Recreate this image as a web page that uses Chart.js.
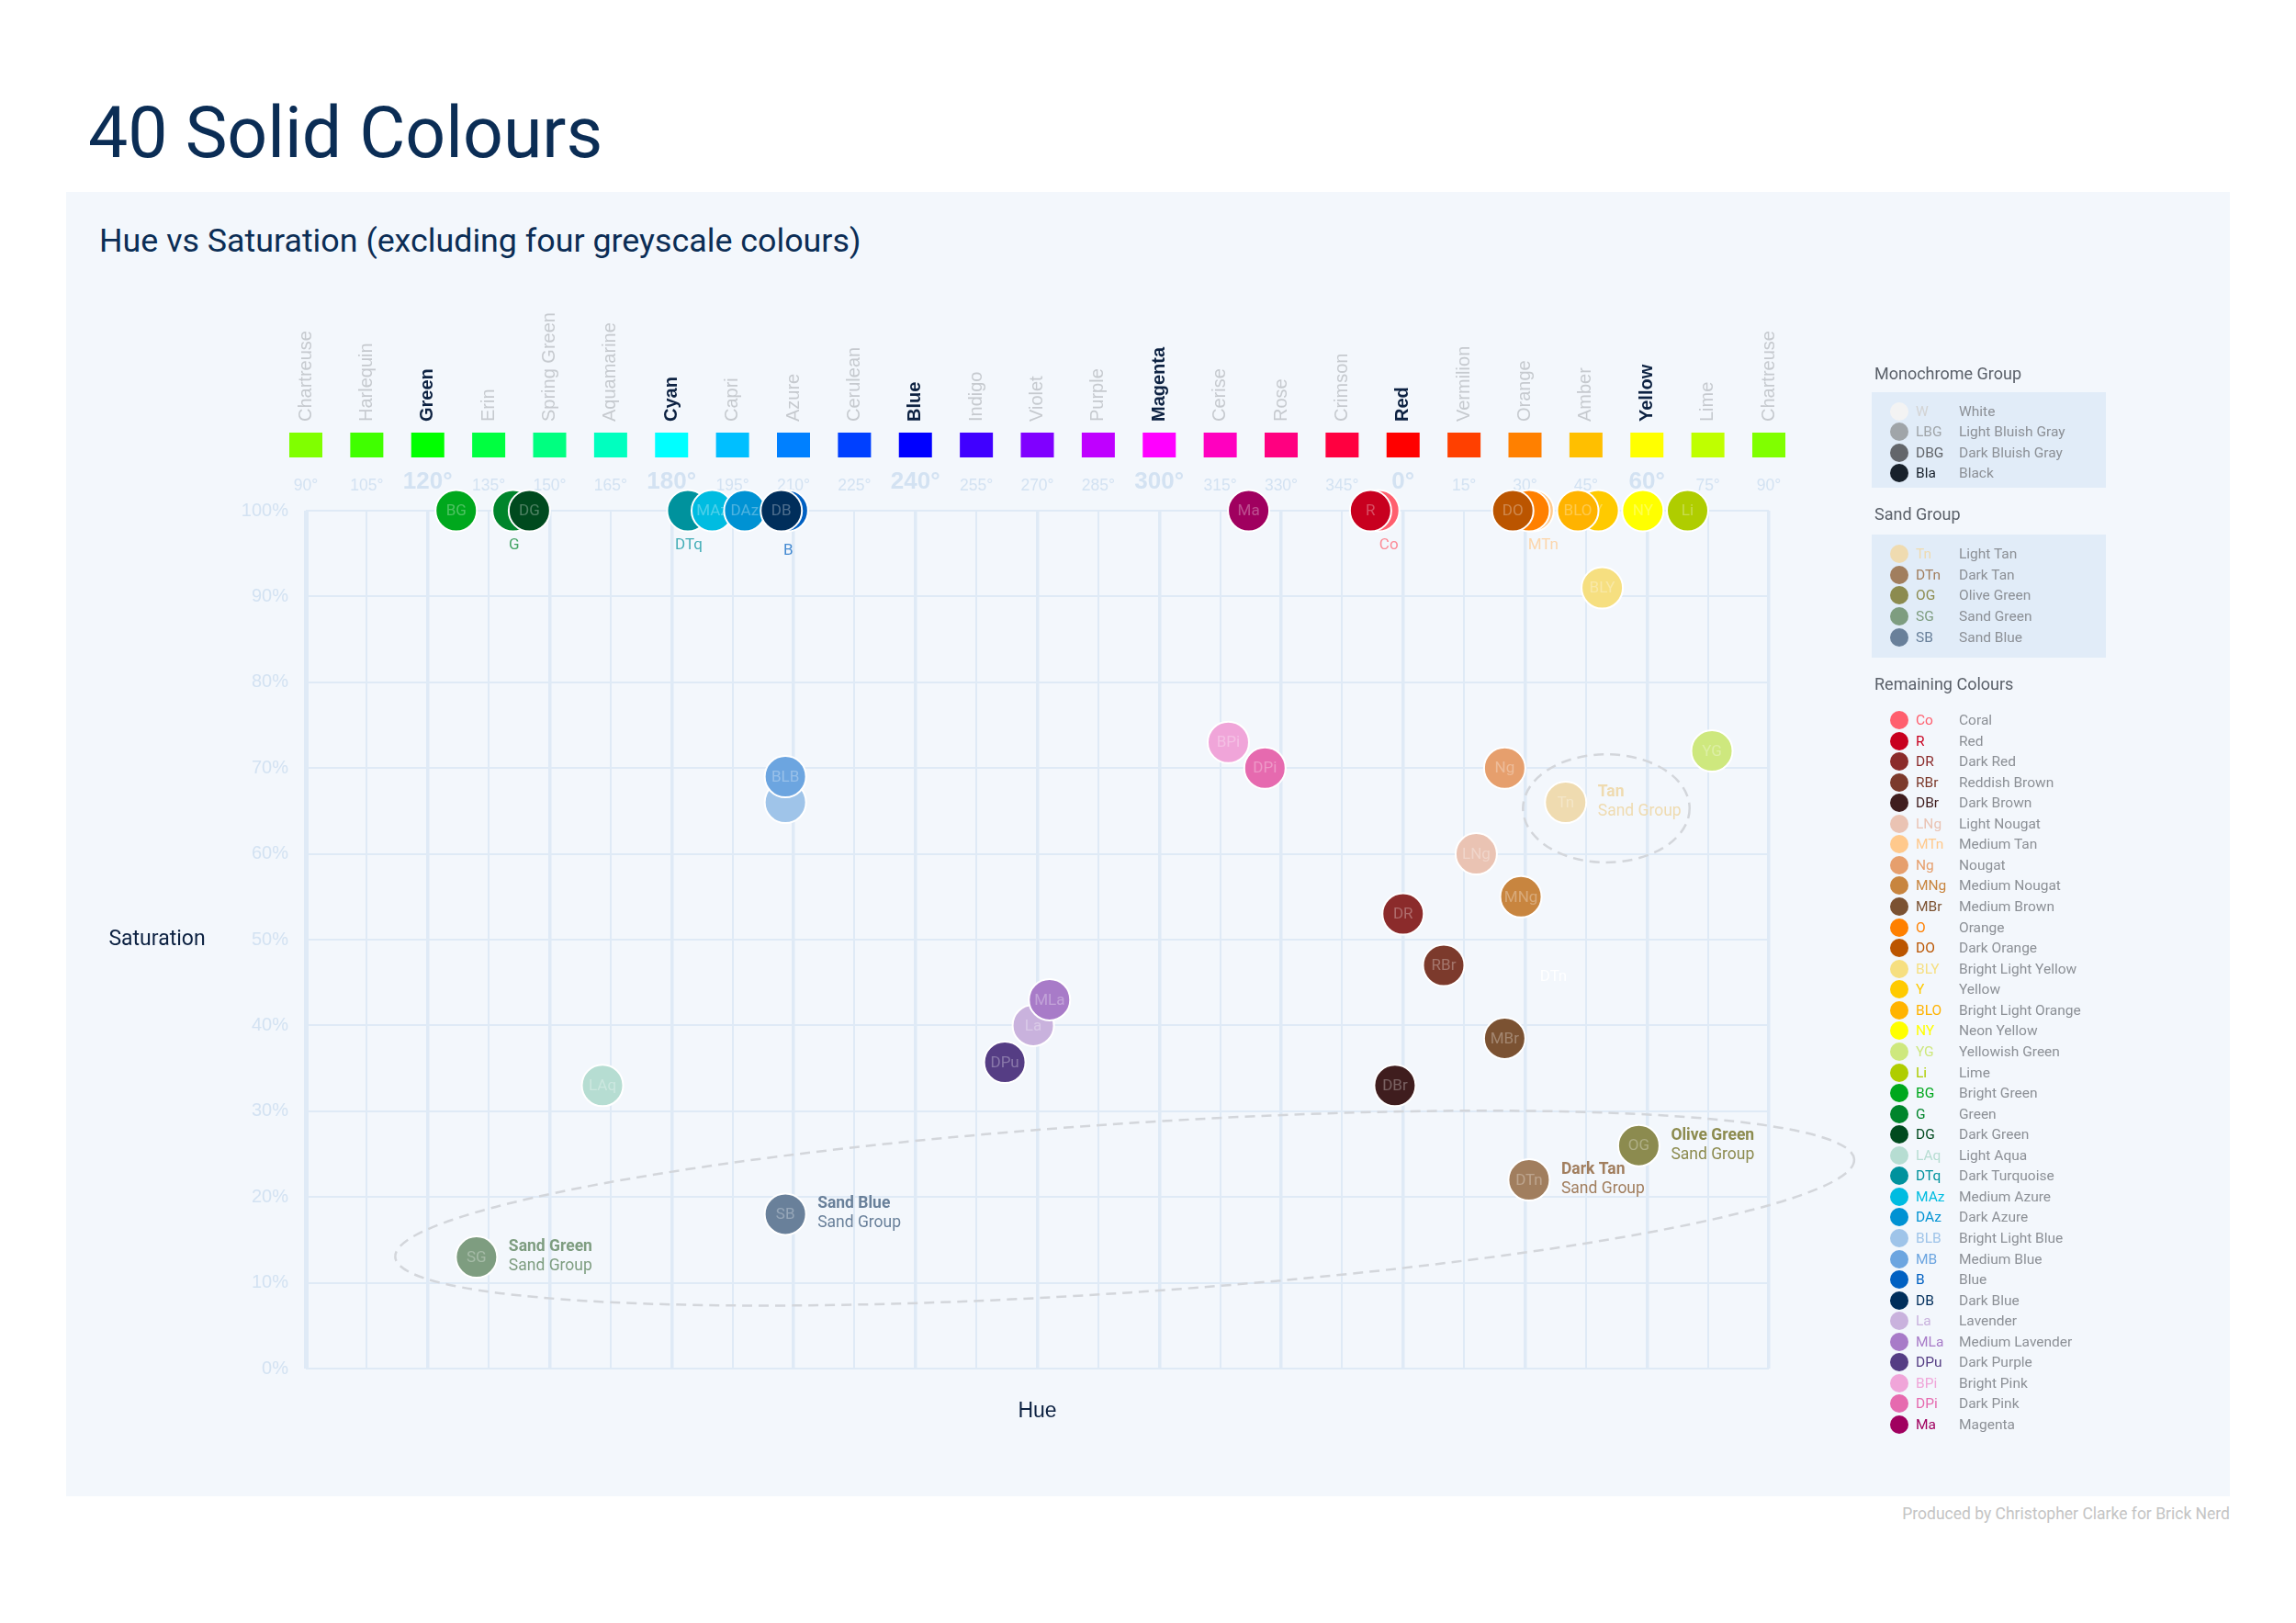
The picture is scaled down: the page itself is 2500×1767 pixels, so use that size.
<!DOCTYPE html>
<html>
<head>
<meta charset="utf-8">
<title>40 Solid Colours</title>
<script src="https://cdn.jsdelivr.net/npm/chart.js@4.4.1/dist/chart.umd.min.js"></script>
<style>
  body { margin: 0; width: 2500px; height: 1767px; position: relative; overflow: hidden; background: #fff; font-family: Roboto, sans-serif; }
  #panel { position: absolute; left: 72px; top: 209px; width: 2356px; height: 1420px; background: #F3F7FC; }
  #title { position: absolute; left: 96px; top: 107px; font-size: 77px; line-height: 1; color: #0B2D55; white-space: nowrap; }
  #subtitle { position: absolute; left: 108px; top: 245px; font-size: 35.8px; line-height: 1; color: #0B2D55; white-space: nowrap; }
  #footer { position: absolute; right: 72px; top: 1640px; font-size: 17.5px; line-height: 1; color: #C4C4C4; white-space: nowrap; }
  #chart { position: absolute; left: 0; top: 0; }
  #legend { position: absolute; left: 0; top: 0; }
  .lg-head { position: absolute; left: 2041px; font-size: 18px; line-height: 22px; color: #5A6069; white-space: nowrap; }
  .lg-box { position: absolute; left: 2038px; width: 255px; background: #E1ECF8; }
  .lg-row { position: absolute; left: 2058px; height: 22px; line-height: 22px; font-size: 15.5px; white-space: nowrap; }
  .lg-dot { position: absolute; left: 0; top: 1px; width: 20px; height: 20px; border-radius: 50%; }
  .lg-code { position: absolute; left: 28px; }
  .lg-name { position: absolute; left: 75px; color: #8C9096; }
</style>
</head>
<body>
<div id="panel"></div>
<div id="title">40 Solid Colours</div>
<div id="subtitle">Hue vs Saturation (excluding four greyscale colours)</div>
<div id="footer">Produced by Christopher Clarke for Brick Nerd</div>
<canvas id="chart" width="2500" height="1767"></canvas>
<div id="legend"></div>
<script>
// hue axis runs from 90 round to 450 (= 90 again)
const hueTicks = [90, 105, 120, 135, 150, 165, 180, 195, 210, 225, 240, 255, 270, 285, 300, 315, 330, 345, 360, 375, 390, 405, 420, 435, 450];
const hueNames = ['Chartreuse', 'Harlequin', 'Green', 'Erin', 'Spring Green', 'Aquamarine', 'Cyan', 'Capri', 'Azure', 'Cerulean', 'Blue', 'Indigo', 'Violet', 'Purple', 'Magenta', 'Cerise', 'Rose', 'Crimson', 'Red', 'Vermilion', 'Orange', 'Amber', 'Yellow', 'Lime', 'Chartreuse'];
const primaryHues = [120, 180, 240, 300, 360, 420];

// legend only
const monoCodes = ['W', 'LBG', 'DBG', 'Bla'];
const monoNames = ['White', 'Light Bluish Gray', 'Dark Bluish Gray', 'Black'];
const monoColours = ['#F3F3F3', '#A0A5A9', '#63666B', '#18212B'];

// plotted colours (remaining colours, then sand group)
const codes = ['Co', 'R', 'DR', 'RBr', 'DBr', 'LNg', 'MTn', 'Ng', 'MNg', 'MBr', 'O', 'DO', 'BLY', 'Y', 'BLO', 'NY', 'YG', 'Li', 'BG', 'G', 'DG', 'LAq', 'DTq', 'MAz', 'DAz', 'BLB', 'MB', 'B', 'DB', 'La', 'MLa', 'DPu', 'BPi', 'DPi', 'Ma',
               'Tn', 'DTn', 'OG', 'SG', 'SB'];
const names = ['Coral', 'Red', 'Dark Red', 'Reddish Brown', 'Dark Brown', 'Light Nougat', 'Medium Tan', 'Nougat', 'Medium Nougat', 'Medium Brown', 'Orange', 'Dark Orange', 'Bright Light Yellow', 'Yellow', 'Bright Light Orange', 'Neon Yellow', 'Yellowish Green', 'Lime', 'Bright Green', 'Green', 'Dark Green', 'Light Aqua', 'Dark Turquoise', 'Medium Azure', 'Dark Azure', 'Bright Light Blue', 'Medium Blue', 'Blue', 'Dark Blue', 'Lavender', 'Medium Lavender', 'Dark Purple', 'Bright Pink', 'Dark Pink', 'Magenta',
               'Light Tan', 'Dark Tan', 'Olive Green', 'Sand Green', 'Sand Blue'];
const groups = ['rem', 'rem', 'rem', 'rem', 'rem', 'rem', 'rem', 'rem', 'rem', 'rem', 'rem', 'rem', 'rem', 'rem', 'rem', 'rem', 'rem', 'rem', 'rem', 'rem', 'rem', 'rem', 'rem', 'rem', 'rem', 'rem', 'rem', 'rem', 'rem', 'rem', 'rem', 'rem', 'rem', 'rem', 'rem',
                'sand', 'sand', 'sand', 'sand', 'sand'];
const colours = ['#FF5F6E', '#C8001F', '#8B2B2B', '#7C3A2C', '#3F1D1E', '#EAC3B3', '#FFC98C', '#E69F6D', '#C8853F', '#7B5232', '#FF8000', '#BB5500', '#F6DF80', '#FFCA00', '#FFB300', '#FFFF00', '#CEE87E', '#AFCD00', '#00A81D', '#00852B', '#004A1E', '#B6DDD2', '#00929D', '#00BCE1', '#0092D3', '#9FC4E9', '#6CA5E0', '#0060C2', '#002E5B', '#C9B2DD', '#A87BC8', '#553D84', '#F0A5D9', '#E66AAF', '#A0005F',
                 '#EFDBB0', '#A17E5E', '#8C8B4F', '#7E9D80', '#69809A'];
const hues = [354, 352, 360, 370, 358, 378, 392, 385, 389, 385, 391, 387, 409, 408, 403, 419, 436, 430, 127, 141, 145, 163, 184, 190, 198, 208, 208, 208.5, 207, 269, 273, 262, 317, 326, 322,
              400, 391, 418, 132, 208];
const saturations = [100, 100, 53, 47, 33, 60, 100, 70, 55, 38.5, 100, 100, 91, 100, 100, 100, 72, 100, 100, 100, 100, 33, 100, 100, 100, 66, 69, 100, 100, 40, 43, 35.7, 73, 70, 100,
                     66, 22, 26, 13, 18];
const sandTitles = { Tn: 'Tan', DTn: 'Dark Tan', OG: 'Olive Green', SG: 'Sand Green', SB: 'Sand Blue' };

// label styling
const belowLabel = ['G', 'DTq', 'B', 'Co', 'MTn'];
const labelText = { MB: 'BLB', BLB: '' };
const ghostLabel = { text: 'DTn', hue: 397, sat: 45.6 };
const rings = [
  { from: [112, 13], to: [471, 24.4], minor: 9.85 },
  { from: [389.5, 65.3], to: [430.5, 65.3], minor: 6.3 }
];

const gridColour = '#DFEAF6';
const tickColour = '#D3E2F2';
const navy = '#0D2242';

const datasets = codes.map((c, i) => ({
  label: names[i],
  data: [{ x: hues[i], y: saturations[i] }],
  pointBackgroundColor: colours[i],
  pointBorderColor: '#ffffff',
  pointBorderWidth: 2,
  pointRadius: 22.5,
  clip: false,
  order: -i
}));

const headerPlugin = {
  id: 'header',
  afterDraw(chart) {
    const { ctx, chartArea } = chart;
    const sx = chart.scales.xTop;
    ctx.save();
    hueTicks.forEach((h, i) => {
      const x = sx.getPixelForValue(h);
      ctx.fillStyle = 'hsl(' + (h % 360) + ',100%,50%)';
      ctx.fillRect(x - 18, chartArea.top - 85, 36, 27);
      const major = primaryHues.includes(h);
      ctx.save();
      ctx.translate(x, chartArea.top - 97);
      ctx.rotate(-Math.PI / 2);
      ctx.font = (major ? 'bold ' : '') + '20px "Liberation Sans", Arial, sans-serif';
      ctx.fillStyle = major ? navy : '#C6CACF';
      ctx.textAlign = 'left';
      ctx.textBaseline = 'middle';
      ctx.fillText(hueNames[i], 0, 0);
      ctx.restore();
    });
    // y axis title, horizontal
    const sy = chart.scales.y;
    ctx.font = '23px Roboto';
    ctx.fillStyle = navy;
    ctx.textAlign = 'center';
    ctx.textBaseline = 'middle';
    ctx.fillText('Saturation', chartArea.left - 162, sy.getPixelForValue(50));
    ctx.restore();
  }
};

const ringPlugin = {
  id: 'rings',
  beforeDatasetsDraw(chart) {
    const ctx = chart.ctx;
    const sx = chart.scales.x, sy = chart.scales.y;
    ctx.save();
    ctx.strokeStyle = '#D3D6DB';
    ctx.lineWidth = 2.5;
    ctx.setLineDash([11, 7]);
    rings.forEach(r => {
      const x1 = sx.getPixelForValue(r.from[0]), y1 = sy.getPixelForValue(r.from[1]);
      const x2 = sx.getPixelForValue(r.to[0]), y2 = sy.getPixelForValue(r.to[1]);
      const a = Math.hypot(x2 - x1, y2 - y1) / 2;
      const b = Math.abs(sy.getPixelForValue(0) - sy.getPixelForValue(r.minor));
      ctx.beginPath();
      ctx.ellipse((x1 + x2) / 2, (y1 + y2) / 2, a, b, Math.atan2(y2 - y1, x2 - x1), 0, Math.PI * 2);
      ctx.stroke();
    });
    ctx.restore();
  },
  afterDatasetsDraw(chart) {
    const ctx = chart.ctx;
    ctx.save();
    ctx.font = '17px Roboto';
    ctx.fillStyle = 'rgba(255,255,255,0.95)';
    ctx.textAlign = 'center';
    ctx.textBaseline = 'middle';
    ctx.fillText(ghostLabel.text, chart.scales.x.getPixelForValue(ghostLabel.hue), chart.scales.y.getPixelForValue(ghostLabel.sat));
    ctx.restore();
  }
};

// labels drawn right after each circle so later circles can cover them
const labelPlugin = {
  id: 'pointLabels',
  afterDatasetDraw(chart, args) {
    const i = args.index;
    const el = args.meta.data[0];
    if (!el) return;
    const ctx = chart.ctx;
    const code = codes[i];
    ctx.save();
    ctx.textAlign = 'center';
    ctx.textBaseline = 'middle';
    ctx.font = '17px Roboto';
    if (belowLabel.includes(code)) {
      ctx.globalAlpha = 0.72;
      ctx.fillStyle = colours[i];
      ctx.fillText(code, el.x + (code === 'Co' || code === 'MTn' ? 11 : 1), el.y + (code === 'B' ? 44 : 38));
    } else {
      const t = code in labelText ? labelText[code] : code;
      ctx.fillStyle = 'rgba(255,255,255,0.3)';
      if (t) ctx.fillText(t, el.x, el.y + 1);
    }
    if (groups[i] === 'sand') {
      ctx.globalAlpha = 1;
      ctx.textAlign = 'left';
      ctx.fillStyle = colours[i];
      ctx.font = 'bold 17.5px Roboto';
      ctx.fillText(sandTitles[code], el.x + 35, el.y - 11);
      ctx.font = '17.5px Roboto';
      ctx.fillText('Sand Group', el.x + 35, el.y + 10);
    }
    ctx.restore();
  }
};

const tickValue = c => (c && c.tick ? c.tick.value : null);

const hueAxis = {
  type: 'linear',
  min: 90,
  max: 450,
  ticks: { stepSize: 15, maxTicksLimit: 100, autoSkip: false }
};

new Chart(document.getElementById('chart'), {
  type: 'scatter',
  data: { datasets: datasets },
  options: {
    responsive: false,
    devicePixelRatio: 1,
    animation: false,
    events: [],
    layout: { padding: { left: 213, right: 574, top: 506, bottom: 197 } },
    plugins: { legend: { display: false }, tooltip: { enabled: false } },
    scales: {
      x: {
        ...hueAxis,
        position: 'bottom',
        ticks: { ...hueAxis.ticks, display: false },
        grid: {
          color: gridColour,
          drawTicks: false,
          lineWidth: c => {
            const v = tickValue(c);
            if (v === 90) return 5;
            return v !== null && v % 30 === 0 ? 3.5 : 2;
          }
        },
        border: { display: false },
        title: { display: true, text: 'Hue', color: navy, font: { size: 23 }, padding: { top: 0, bottom: 20 } },
        afterFit: s => { s.height = 80; }
      },
      xTop: {
        ...hueAxis,
        position: 'top',
        ticks: {
          ...hueAxis.ticks,
          maxRotation: 0,
          padding: 16,
          color: tickColour,
          callback: v => (v % 360) + '°',
          font: c => primaryHues.includes(tickValue(c)) ? { size: 26, weight: 'bold' } : { size: 17.5 }
        },
        grid: { display: false, drawTicks: false },
        border: { display: false },
        afterFit: s => { s.height = 50; }
      },
      y: {
        min: 0,
        max: 100,
        ticks: { stepSize: 10, padding: 19, color: tickColour, font: { size: 20 }, callback: v => v + '%' },
        grid: { color: gridColour, lineWidth: 2, drawTicks: false },
        border: { display: false },
        afterFit: s => { s.width = 120; }
      }
    }
  },
  plugins: [ringPlugin, labelPlugin, headerPlugin]
});

// legend
const legend = document.getElementById('legend');
function el(cls, css, text) {
  const d = document.createElement('div');
  d.className = cls;
  Object.assign(d.style, css);
  if (text) d.textContent = text;
  return d;
}
function heading(text, cy) { legend.appendChild(el('lg-head', { top: (cy - 11) + 'px' }, text)); }
function box(top, h) { legend.appendChild(el('lg-box', { top: top + 'px', height: h + 'px' })); }
function row(code, name, colour, cy) {
  const r = el('lg-row', { top: (cy - 11) + 'px' });
  r.appendChild(el('lg-dot', { background: colour }));
  r.appendChild(el('lg-code', { color: code === 'W' ? '#D3D3D3' : colour }, code));
  r.appendChild(el('lg-name', {}, name));
  legend.appendChild(r);
}

heading('Monochrome Group', 407);
box(427, 104);
monoCodes.forEach((c, k) => row(c, monoNames[k], monoColours[k], 448 + k * 22.4));

heading('Sand Group', 560);
box(582, 134);
let k = 0;
codes.forEach((c, i) => { if (groups[i] === 'sand') { row(c, names[i], colours[i], 603 + k * 22.7); k++; } });

heading('Remaining Colours', 745);
k = 0;
codes.forEach((c, i) => { if (groups[i] === 'rem') { row(c, names[i], colours[i], 784 + k * 22.56); k++; } });
</script>
</body>
</html>
